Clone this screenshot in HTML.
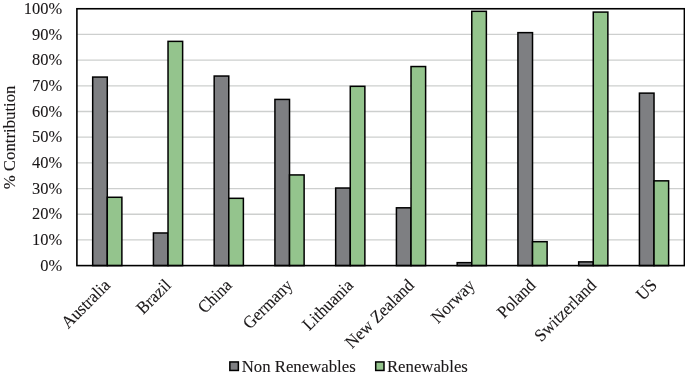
<!DOCTYPE html>
<html><head><meta charset="utf-8"><title>Chart</title>
<style>html,body{margin:0;padding:0;background:#fff}svg{display:block}</style>
</head><body>
<svg width="685" height="375" viewBox="0 0 685 375" style="display:block">
<rect x="0" y="0" width="685" height="375" fill="#fff"/>
<line x1="76.9" x2="684.4" y1="239.92" y2="239.92" stroke="#cdcfce" stroke-width="1.3"/>
<line x1="76.9" x2="684.4" y1="214.23" y2="214.23" stroke="#cdcfce" stroke-width="1.3"/>
<line x1="76.9" x2="684.4" y1="188.55" y2="188.55" stroke="#cdcfce" stroke-width="1.3"/>
<line x1="76.9" x2="684.4" y1="162.86" y2="162.86" stroke="#cdcfce" stroke-width="1.3"/>
<line x1="76.9" x2="684.4" y1="137.18" y2="137.18" stroke="#cdcfce" stroke-width="1.3"/>
<line x1="76.9" x2="684.4" y1="111.49" y2="111.49" stroke="#cdcfce" stroke-width="1.3"/>
<line x1="76.9" x2="684.4" y1="85.81" y2="85.81" stroke="#cdcfce" stroke-width="1.3"/>
<line x1="76.9" x2="684.4" y1="60.12" y2="60.12" stroke="#cdcfce" stroke-width="1.3"/>
<line x1="76.9" x2="684.4" y1="34.43" y2="34.43" stroke="#cdcfce" stroke-width="1.3"/>
<rect x="92.68" y="77.07" width="14.60" height="188.53" fill="#7e7f82" stroke="#000" stroke-width="1.5"/>
<rect x="107.28" y="197.28" width="14.60" height="68.32" fill="#94c48d" stroke="#000" stroke-width="1.5"/>
<rect x="153.43" y="232.98" width="14.60" height="32.62" fill="#7e7f82" stroke="#000" stroke-width="1.5"/>
<rect x="168.03" y="41.37" width="14.60" height="224.23" fill="#94c48d" stroke="#000" stroke-width="1.5"/>
<rect x="214.18" y="76.04" width="14.60" height="189.56" fill="#7e7f82" stroke="#000" stroke-width="1.5"/>
<rect x="228.78" y="198.31" width="14.60" height="67.29" fill="#94c48d" stroke="#000" stroke-width="1.5"/>
<rect x="274.92" y="99.42" width="14.60" height="166.18" fill="#7e7f82" stroke="#000" stroke-width="1.5"/>
<rect x="289.52" y="174.93" width="14.60" height="90.67" fill="#94c48d" stroke="#000" stroke-width="1.5"/>
<rect x="335.67" y="188.03" width="14.60" height="77.57" fill="#7e7f82" stroke="#000" stroke-width="1.5"/>
<rect x="350.27" y="86.32" width="14.60" height="179.28" fill="#94c48d" stroke="#000" stroke-width="1.5"/>
<rect x="396.42" y="207.81" width="14.60" height="57.79" fill="#7e7f82" stroke="#000" stroke-width="1.5"/>
<rect x="411.02" y="66.54" width="14.60" height="199.06" fill="#94c48d" stroke="#000" stroke-width="1.5"/>
<rect x="457.17" y="262.65" width="14.60" height="2.95" fill="#7e7f82" stroke="#000" stroke-width="1.5"/>
<rect x="471.77" y="11.32" width="14.60" height="254.28" fill="#94c48d" stroke="#000" stroke-width="1.5"/>
<rect x="517.92" y="32.64" width="14.60" height="232.96" fill="#7e7f82" stroke="#000" stroke-width="1.5"/>
<rect x="532.52" y="241.71" width="14.60" height="23.89" fill="#94c48d" stroke="#000" stroke-width="1.5"/>
<rect x="578.67" y="261.88" width="14.60" height="3.72" fill="#7e7f82" stroke="#000" stroke-width="1.5"/>
<rect x="593.27" y="12.09" width="14.60" height="253.51" fill="#94c48d" stroke="#000" stroke-width="1.5"/>
<rect x="639.42" y="93.13" width="14.60" height="172.47" fill="#7e7f82" stroke="#000" stroke-width="1.5"/>
<rect x="654.02" y="180.84" width="14.60" height="84.76" fill="#94c48d" stroke="#000" stroke-width="1.5"/>
<rect x="76.9" y="8.75" width="607.5" height="256.85" fill="none" stroke="#000" stroke-width="1.6"/>
<g font-family="'Liberation Serif', serif" font-size="17.5" fill="#1a1718" stroke="#1a1718" stroke-width="0.1">
<text transform="translate(62.2,270.65) scale(0.94,1)" text-anchor="end">0%</text>
<text transform="translate(62.2,244.99) scale(0.94,1)" text-anchor="end">10%</text>
<text transform="translate(62.2,219.34) scale(0.94,1)" text-anchor="end">20%</text>
<text transform="translate(62.2,193.68) scale(0.94,1)" text-anchor="end">30%</text>
<text transform="translate(62.2,168.03) scale(0.94,1)" text-anchor="end">40%</text>
<text transform="translate(62.2,142.37) scale(0.94,1)" text-anchor="end">50%</text>
<text transform="translate(62.2,116.72) scale(0.94,1)" text-anchor="end">60%</text>
<text transform="translate(62.2,91.06) scale(0.94,1)" text-anchor="end">70%</text>
<text transform="translate(62.2,65.41) scale(0.94,1)" text-anchor="end">80%</text>
<text transform="translate(62.2,39.75) scale(0.94,1)" text-anchor="end">90%</text>
<text transform="translate(62.2,14.10) scale(0.94,1)" text-anchor="end">100%</text>
<text transform="translate(14.6,137.4) rotate(-90) scale(0.958,1)" text-anchor="middle">% Contribution</text>
<text transform="translate(111.28,286.30) rotate(-45) scale(0.95,1)" text-anchor="end">Australia</text>
<text transform="translate(172.03,286.30) rotate(-45) scale(0.95,1)" text-anchor="end">Brazil</text>
<text transform="translate(232.78,286.30) rotate(-45) scale(0.95,1)" text-anchor="end">China</text>
<text transform="translate(293.52,286.30) rotate(-45) scale(0.95,1)" text-anchor="end">Germany</text>
<text transform="translate(354.27,286.30) rotate(-45) scale(0.95,1)" text-anchor="end">Lithuania</text>
<text transform="translate(415.02,286.30) rotate(-45) scale(0.95,1)" text-anchor="end">New Zealand</text>
<text transform="translate(475.77,286.30) rotate(-45) scale(0.95,1)" text-anchor="end">Norway</text>
<text transform="translate(536.52,286.30) rotate(-45) scale(0.95,1)" text-anchor="end">Poland</text>
<text transform="translate(597.27,286.30) rotate(-45) scale(0.95,1)" text-anchor="end">Switzerland</text>
<text transform="translate(658.02,286.30) rotate(-45) scale(0.95,1)" text-anchor="end">US</text>
<rect x="229.85" y="361.95" width="8.5" height="8.5" fill="#7e7f82" stroke="#000" stroke-width="1.5"/>
<text transform="translate(241.7,371.9) scale(0.958,1)">Non Renewables</text>
<rect x="375.7" y="361.95" width="8.3" height="8.5" fill="#94c48d" stroke="#000" stroke-width="1.5"/>
<text transform="translate(386.9,371.9) scale(0.958,1)">Renewables</text>
</g>
</svg>
</body></html>
